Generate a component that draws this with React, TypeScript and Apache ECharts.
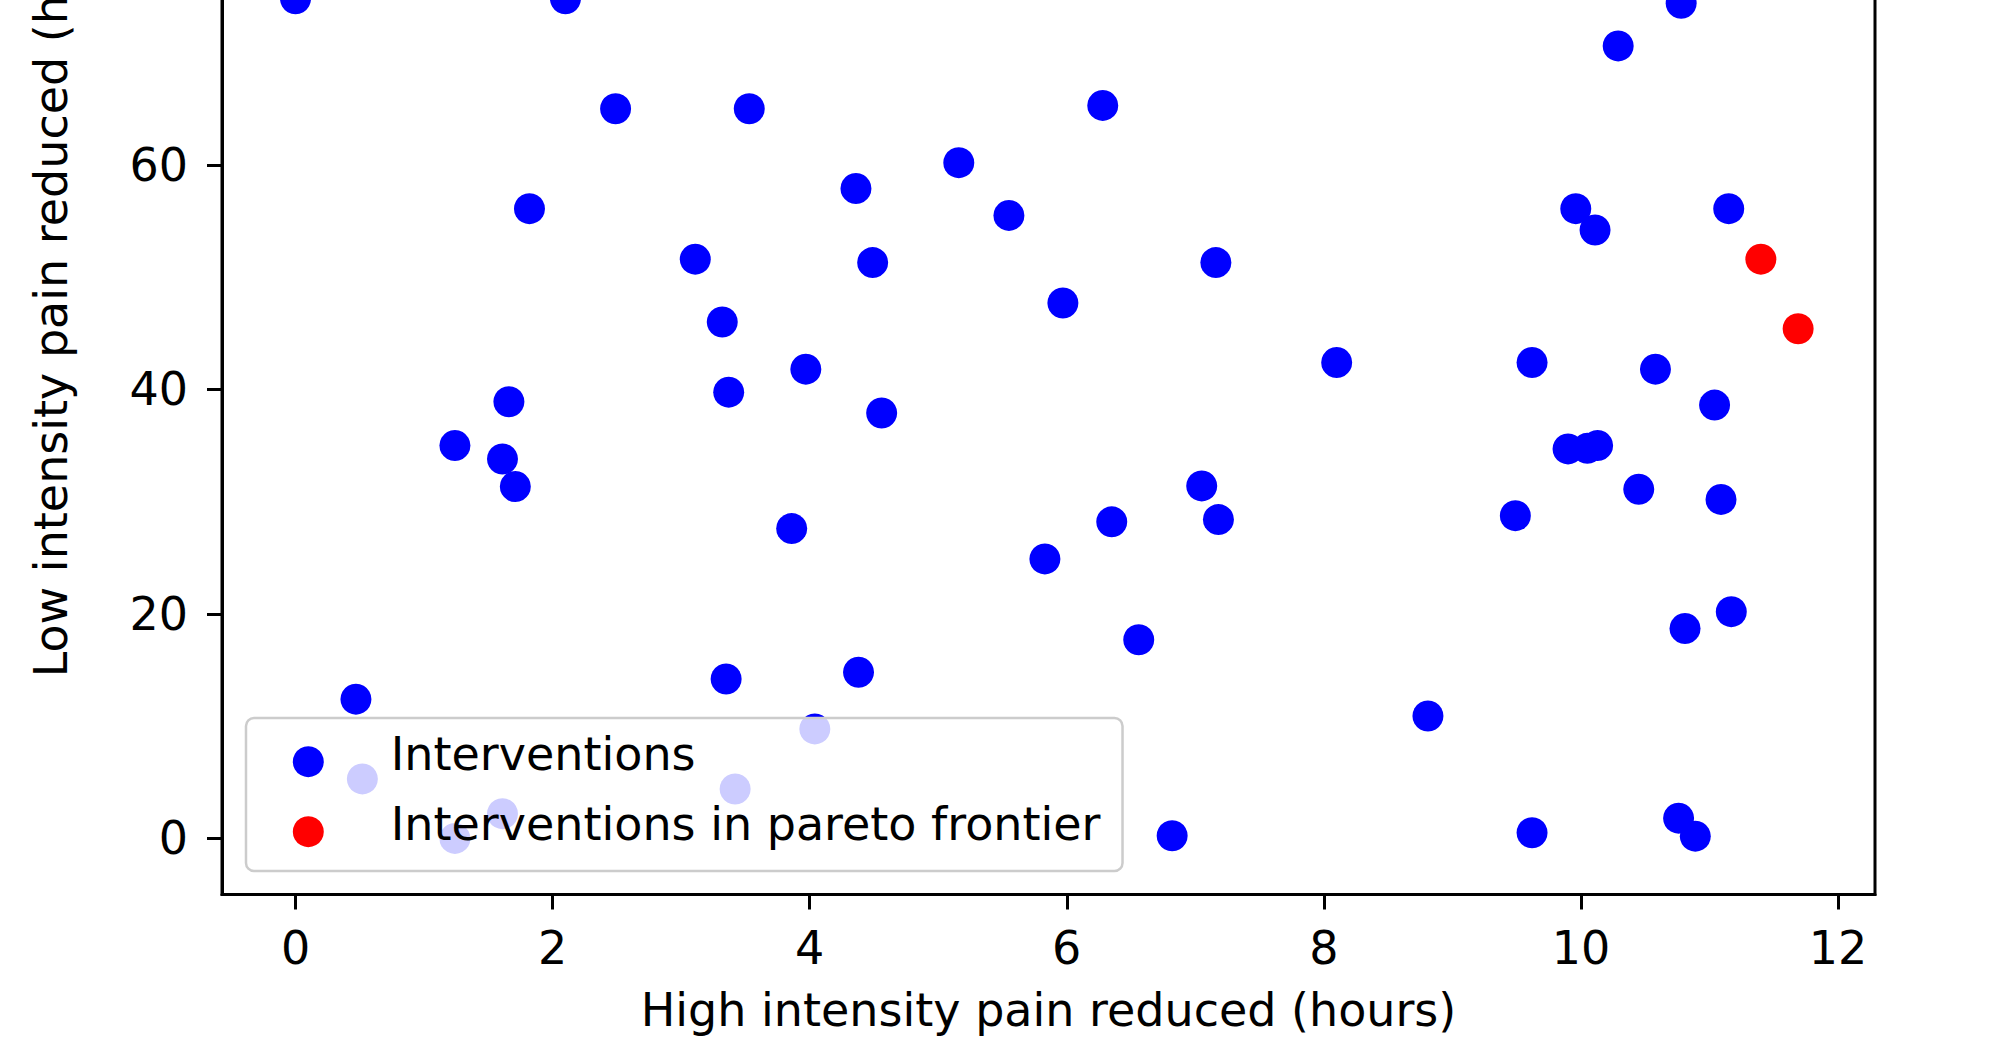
import React, { useEffect, useRef } from "react";
import * as echarts from "echarts";

// High intensity pain reduced (hours) / Low intensity pain reduced (hours)
const interventionsX = [
  0.0, 2.1, 2.49, 3.53, 6.28, 5.16, 1.82, 4.36, 5.55, 3.11, 4.49, 7.16, 5.97, 3.32, 3.97, 3.37, 4.56,
  1.66, 1.24, 1.61, 1.71, 3.86, 8.1, 9.62, 9.96, 10.11, 11.15, 10.29, 10.78, 10.58, 11.04, 9.9, 10.05,
  10.13, 10.45, 11.09, 9.49, 11.17, 10.81, 7.05, 7.18, 6.35, 5.83, 6.56, 8.81, 4.38, 3.35, 0.47, 4.04,
  0.52, 3.42, 1.61, 1.24, 6.82, 9.62, 10.76, 10.89,
];
const interventionsY = [
  74.8, 74.8, 65.0, 65.0, 65.3, 60.2, 56.1, 57.9, 55.5, 51.6, 51.3, 51.3, 47.7, 46.0, 41.8, 39.75, 37.9,
  38.9, 35.0, 33.8, 31.35, 27.6, 42.4, 42.4, 56.1, 54.2, 56.1, 70.6, 74.4, 41.8, 38.6, 34.7, 34.75,
  35.0, 31.1, 30.2, 28.75, 20.2, 18.7, 31.4, 28.4, 28.2, 24.9, 17.7, 10.9, 14.8, 14.2, 12.4, 9.75,
  5.3, 4.4, 2.2, 0.0, 0.23, 0.5, 1.8, 0.2,
];
const paretoX = [11.4, 11.69];
const paretoY = [51.6, 45.4];

const xTicks = [0, 2, 4, 6, 8, 10, 12];
const yTicks = [0, 20, 40, 60];

const seriesNames = ["Interventions", "Interventions in pareto frontier"];
const xName = "High intensity pain reduced (hours)";
const yName = "Low intensity pain reduced (hours)";

const FONT = "DejaVu Sans";

export default function App() {
  const ref = useRef<HTMLDivElement>(null);

  useEffect(() => {
    if (!ref.current) return;
    const chart = echarts.init(ref.current, null, { renderer: "svg" });
    const zip = (xs: number[], ys: number[]) => xs.map((x, i) => [x, ys[i]]);
    const labelStyle = { fontFamily: FONT, fontSize: 46, lineHeight: 46, color: "#000" };

    chart.setOption({
      animation: false,
      backgroundColor: "#ffffff",
      textStyle: { fontFamily: FONT },
      grid: {
        left: 222,
        right: 125,
        top: -340.2,
        bottom: 152.5,
        show: true,
        borderColor: "#000",
        borderWidth: 3,
        backgroundColor: "transparent",
        containLabel: false,
        outerBoundsMode: "none",
      },
      xAxis: {
        type: "value",
        min: -0.572,
        max: 12.288,
        name: xName,
        nameLocation: "middle",
        nameGap: 92,
        nameMoveOverlap: false,
        nameTextStyle: labelStyle,
        axisLine: { show: true, onZero: false, lineStyle: { color: "#000", width: 3 } },
        axisTick: {
          show: true,
          inside: false,
          length: 15,
          lineStyle: { color: "#000", width: 3 },
          customValues: xTicks,
        },
        axisLabel: { ...labelStyle, margin: 30, customValues: xTicks },
        splitLine: { show: false },
      },
      yAxis: {
        type: "value",
        min: -5,
        max: 105,
        name: yName,
        nameLocation: "middle",
        nameGap: 148,
        nameMoveOverlap: false,
        nameTextStyle: labelStyle,
        axisLine: { show: true, onZero: false, lineStyle: { color: "#000", width: 3 } },
        axisTick: {
          show: true,
          inside: false,
          length: 15,
          lineStyle: { color: "#000", width: 3 },
          customValues: yTicks,
        },
        axisLabel: { ...labelStyle, margin: 34, customValues: yTicks },
        splitLine: { show: false },
      },
      legend: {
        data: seriesNames,
        orient: "vertical",
        left: 246,
        top: 718,
        padding: [12.7, 22, 8.3, 46.8],
        itemGap: 8,
        itemWidth: 31,
        itemHeight: 31,
        icon: "circle",
        selectedMode: false,
        backgroundColor: "rgba(255,255,255,0.8)",
        borderColor: "#cccccc",
        borderWidth: 2.5,
        borderRadius: 8,
        formatter: (name: string) => `{t|${name}}`,
        textStyle: {
          ...labelStyle,
          padding: [0, 0, 0, 62],
          rich: {
            t: {
              fontFamily: FONT,
              fontSize: 46,
              lineHeight: 46,
              color: "#000",
              padding: [0, 0, 16, 0],
            },
          },
        },
      },
      series: [
        {
          type: "scatter",
          name: seriesNames[0],
          data: zip(interventionsX, interventionsY),
          symbol: "circle",
          symbolSize: 31,
          itemStyle: { color: "#0000ff", opacity: 1 },
          emphasis: { disabled: true },
        },
        {
          type: "scatter",
          name: seriesNames[1],
          data: zip(paretoX, paretoY),
          symbol: "circle",
          symbolSize: 31,
          itemStyle: { color: "#ff0000", opacity: 1 },
          emphasis: { disabled: true },
        },
      ],
    });

    return () => chart.dispose();
  }, []);

  return (
    <div
      ref={ref}
      style={{ position: "fixed", left: 0, top: 0, width: 2000, height: 1047, background: "#fff" }}
    />
  );
}
